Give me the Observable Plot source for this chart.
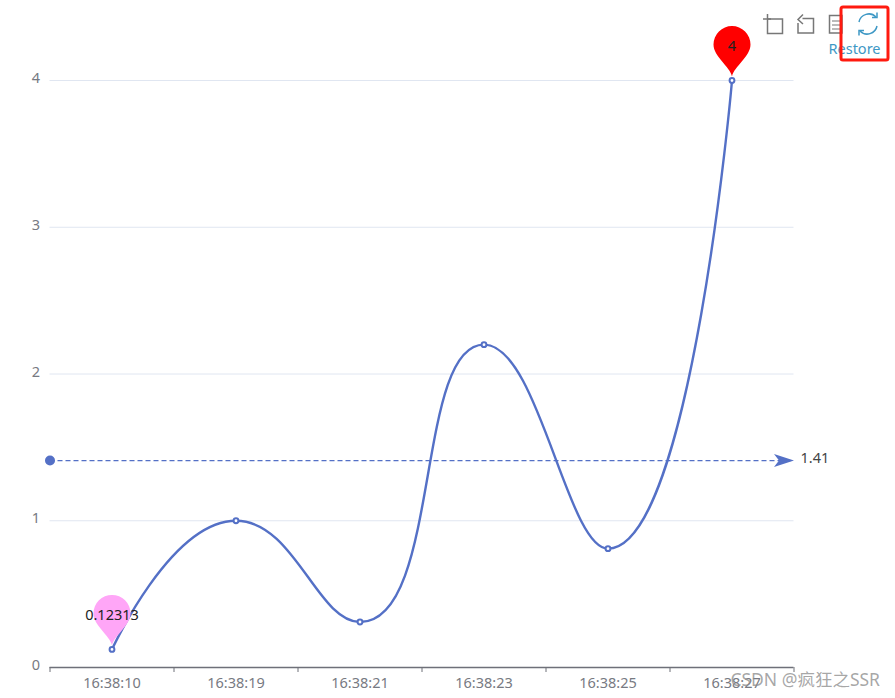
<!DOCTYPE html>
<html><head><meta charset="utf-8">
<script src="https://cdn.jsdelivr.net/npm/d3@7"></script>
<script src="https://cdn.jsdelivr.net/npm/@observablehq/plot@0.6"></script>
<style>
html,body{margin:0;padding:0;background:#fff;overflow:hidden}
#wrap{position:relative;width:895px;height:698px}
#wrap svg{position:absolute;left:0;top:0}
</style></head><body><div id="wrap"></div>
<script>
const times = ["16:38:10","16:38:19","16:38:21","16:38:23","16:38:25","16:38:27"];
const values = [0.12313,1,0.31,2.2,0.81,4];
const yTicks = [0,1,2,3,4];
const gridValues = [1,2,3,4];
const average = 1.41;
const pins = [{i:0,v:0.12313,label:"0.12313",color:"#ffa6f7"},{i:5,v:4,label:"4",color:"#ff0000"}];

const font = "'Noto Sans', 'Open Sans', sans-serif";
const blue = "#5470c6";
const data = times.map((t,i)=>({i,t,v:values[i]}));
const bounds = d3.range(times.length+1).map(k=>k-0.5);

// line smoothing with clamped control points (tangents flatten at local extremes)
function clampedSmooth(context, smooth = 0.5){
  let pts;
  const clamp=(v,a,b)=>Math.max(Math.min(v,Math.max(a,b)),Math.min(a,b));
  return {
    lineStart(){pts=[];},
    point(x,y){pts.push([+x,+y]);},
    lineEnd(){
      const n=pts.length;
      if(!n) return;
      context.moveTo(pts[0][0],pts[0][1]);
      let cx=pts[0][0],cy=pts[0][1];
      for(let k=1;k<n;k++){
        const [x,y]=pts[k];
        if(k===n-1){context.bezierCurveTo(cx,cy,x,y,x,y);break;}
        const [px,py]=pts[k-1],[nx,ny]=pts[k+1];
        const lp=Math.hypot(x-px,y-py),ln=Math.hypot(nx-x,ny-y);
        const ratio=ln/(ln+lp);
        let c1x=clamp(x+(nx-px)*smooth*ratio,nx,x),c1y=clamp(y+(ny-py)*smooth*ratio,ny,y);
        let vx=c1x-x,vy=c1y-y;
        let c0x=clamp(x-vx*lp/ln,px,x),c0y=clamp(y-vy*lp/ln,py,y);
        vx=x-c0x;vy=y-c0y;
        c1x=x+vx*ln/lp;c1y=y+vy*ln/lp;
        context.bezierCurveTo(cx,cy,c0x,c0y,x,y);
        cx=c1x;cy=c1y;
      }
    },
    areaStart(){},areaEnd(){}
  };
}

// teardrop pin, tip at the anchor
const pinSymbol = {draw(c){
  const r=18.5, cy=-36;
  c.moveTo(0,-4);
  c.bezierCurveTo(-2,-14,-r,-24,-r,cy);
  c.arc(0,cy,r,Math.PI,0);
  c.bezierCurveTo(r,-24,2,-14,0,-4);
  c.closePath();
}};
const arrowSymbol = {draw(c){
  c.moveTo(0,0);c.lineTo(-20,-6.5);c.lineTo(-15,0);c.lineTo(-20,6.5);c.closePath();
}};

const plot = Plot.plot({
  width:895,height:698,marginLeft:49.5,marginRight:101.5,marginTop:80,marginBottom:31,
  style:{fontFamily:font,fontSize:"14px",background:"transparent"},
  x:{type:"linear",domain:[-0.5,times.length-0.5]},
  y:{domain:[0,4]},
  marks:[
    Plot.ruleY(gridValues,{stroke:"#e0e6f1",strokeWidth:1,strokeOpacity:1}),
    Plot.ruleY([0],{stroke:"#6e7079",strokeWidth:1.3,strokeOpacity:1}),
    Plot.axisY({ticks:yTicks,tickSize:0,tickPadding:10,label:null,tickFormat:d=>String(d),color:"#777a82",dy:-2,fontSize:14.5}),
    Plot.axisX({ticks:bounds,tickSize:5,tickFormat:()=>"",label:null,stroke:"#6e7079",strokeOpacity:1}),
    Plot.axisX({ticks:data.map(d=>d.i),tickSize:0,tickPadding:10,tickFormat:i=>times[i],label:null,color:"#777a82",fontSize:14.5}),
    Plot.ruleY([average],{x1:-0.5,x2:5.5,stroke:blue,strokeWidth:1.2,strokeDasharray:"5,3",strokeOpacity:1}),
    Plot.dot([average],{x:()=>-0.5,y:d=>d,r:5,fill:blue,stroke:null}),
    Plot.dot([average],{x:()=>5.5,y:d=>d,r:1,symbol:arrowSymbol,fill:blue,stroke:null}),
    Plot.text([average],{x:()=>5.5,y:d=>d,text:d=>d.toFixed(2),textAnchor:"start",dx:6.5,dy:-2,fill:"#444",fontSize:14.5}),
    Plot.line(data,{x:"i",y:"v",curve:c=>clampedSmooth(c),stroke:blue,strokeWidth:2.4}),
    Plot.dot(data,{x:"i",y:"v",r:2.4,fill:"#fff",stroke:blue,strokeWidth:2}),
    Plot.dot(pins,{x:"i",y:"v",r:1,symbol:pinSymbol,fill:"color",stroke:null}),
    Plot.text(pins,{x:"i",y:"v",text:"label",dy:-34,fill:"#222",fontSize:14.5})
  ]
});
document.getElementById("wrap").appendChild(plot);

const ns="http://www.w3.org/2000/svg";
const overlay=document.createElementNS(ns,"svg");
overlay.setAttribute("width",895);overlay.setAttribute("height",698);
overlay.innerHTML=`
<g fill="none" stroke="#777" stroke-width="1.5">
  <path d="M767 19H782.5V33.5H767.5V14"/><path d="M763 19h8" />
  <path d="M802.5 18.5H813.5V33H798V23"/><path d="M803 14.5L798 19.5L803 24" />
  <path d="M829.5 15.5H842V33H829.5Z"/><path d="M832 21H840M832 25H840M832 29H840" stroke-width="1.2"/>
</g>
<g fill="none" stroke="#3e98c5" stroke-width="1.5">
  <path d="M859 22A10 10 0 0 1 876 17"/><path d="M877 26A10 10 0 0 1 860 31"/>
  <path d="M872 17.5H877V12.5M864 30.5H859V35.5"/>
</g>
<text x="854.5" y="54" text-anchor="middle" font-family="${font}" font-size="14.5" fill="#3e98c5">Restore</text>
<rect x="841" y="7" width="47" height="53" rx="2" fill="none" stroke="#ff1a0f" stroke-width="3"/>
<text x="880" y="686" text-anchor="end" font-family="'Noto Sans','Noto Sans CJK SC',sans-serif" font-size="17.5" fill="#8a8a8a" fill-opacity="0.75">CSDN @疯狂之SSR</text>`;
document.getElementById("wrap").appendChild(overlay);
</script></body></html>
